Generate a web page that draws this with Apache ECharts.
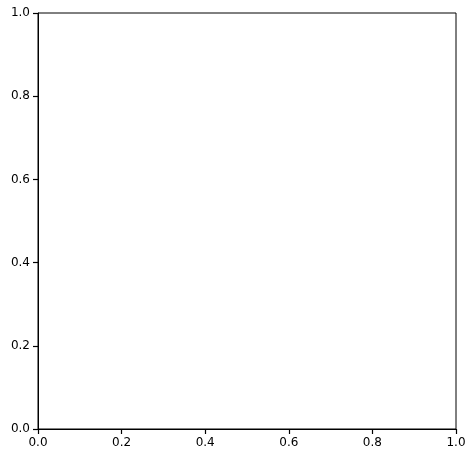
<!DOCTYPE html>
<html>
<head>
<meta charset="utf-8">
<script src="https://cdn.jsdelivr.net/npm/echarts@6/dist/echarts.min.js"></script>
<style>
  html, body { margin: 0; padding: 0; background: #fff; }
  #chart { width: 474px; height: 459px; }
</style>
</head>
<body>
<div id="chart"></div>
<script>
// empty axes, 0..1 on both sides
const xTicks = [0.0, 0.2, 0.4, 0.6, 0.8, 1.0];
const yTicks = [0.0, 0.2, 0.4, 0.6, 0.8, 1.0];
const points = [];

const myChart = echarts.init(document.getElementById('chart'), null, {renderer: 'canvas'});

const axisCommon = (ticks) => ({
    type: 'value',
    min: ticks[0],
    max: ticks[ticks.length - 1],
    interval: ticks[1] - ticks[0],
    z: 5,
    axisLine: {show: true, onZero: false, lineStyle: {color: '#000', width: 1}},
    axisTick: {show: true, inside: false, length: 5, lineStyle: {color: '#000', width: 1.2}},
    axisLabel: {
        color: '#000',
        fontFamily: 'DejaVu Sans',
        fontSize: 12,
        margin: 8,
        formatter: (v) => v.toFixed(1)
    },
    splitLine: {show: false}
});

myChart.setOption({
    animation: false,
    grid: {
        left: 38,
        right: 18,
        top: 13,
        bottom: 30,
        show: true,
        borderColor: '#000',
        borderWidth: 1
    },
    xAxis: axisCommon(xTicks),
    yAxis: axisCommon(yTicks),
    series: [
        {
            type: 'scatter',
            data: points
        }
    ]
});
</script>
</body>
</html>
